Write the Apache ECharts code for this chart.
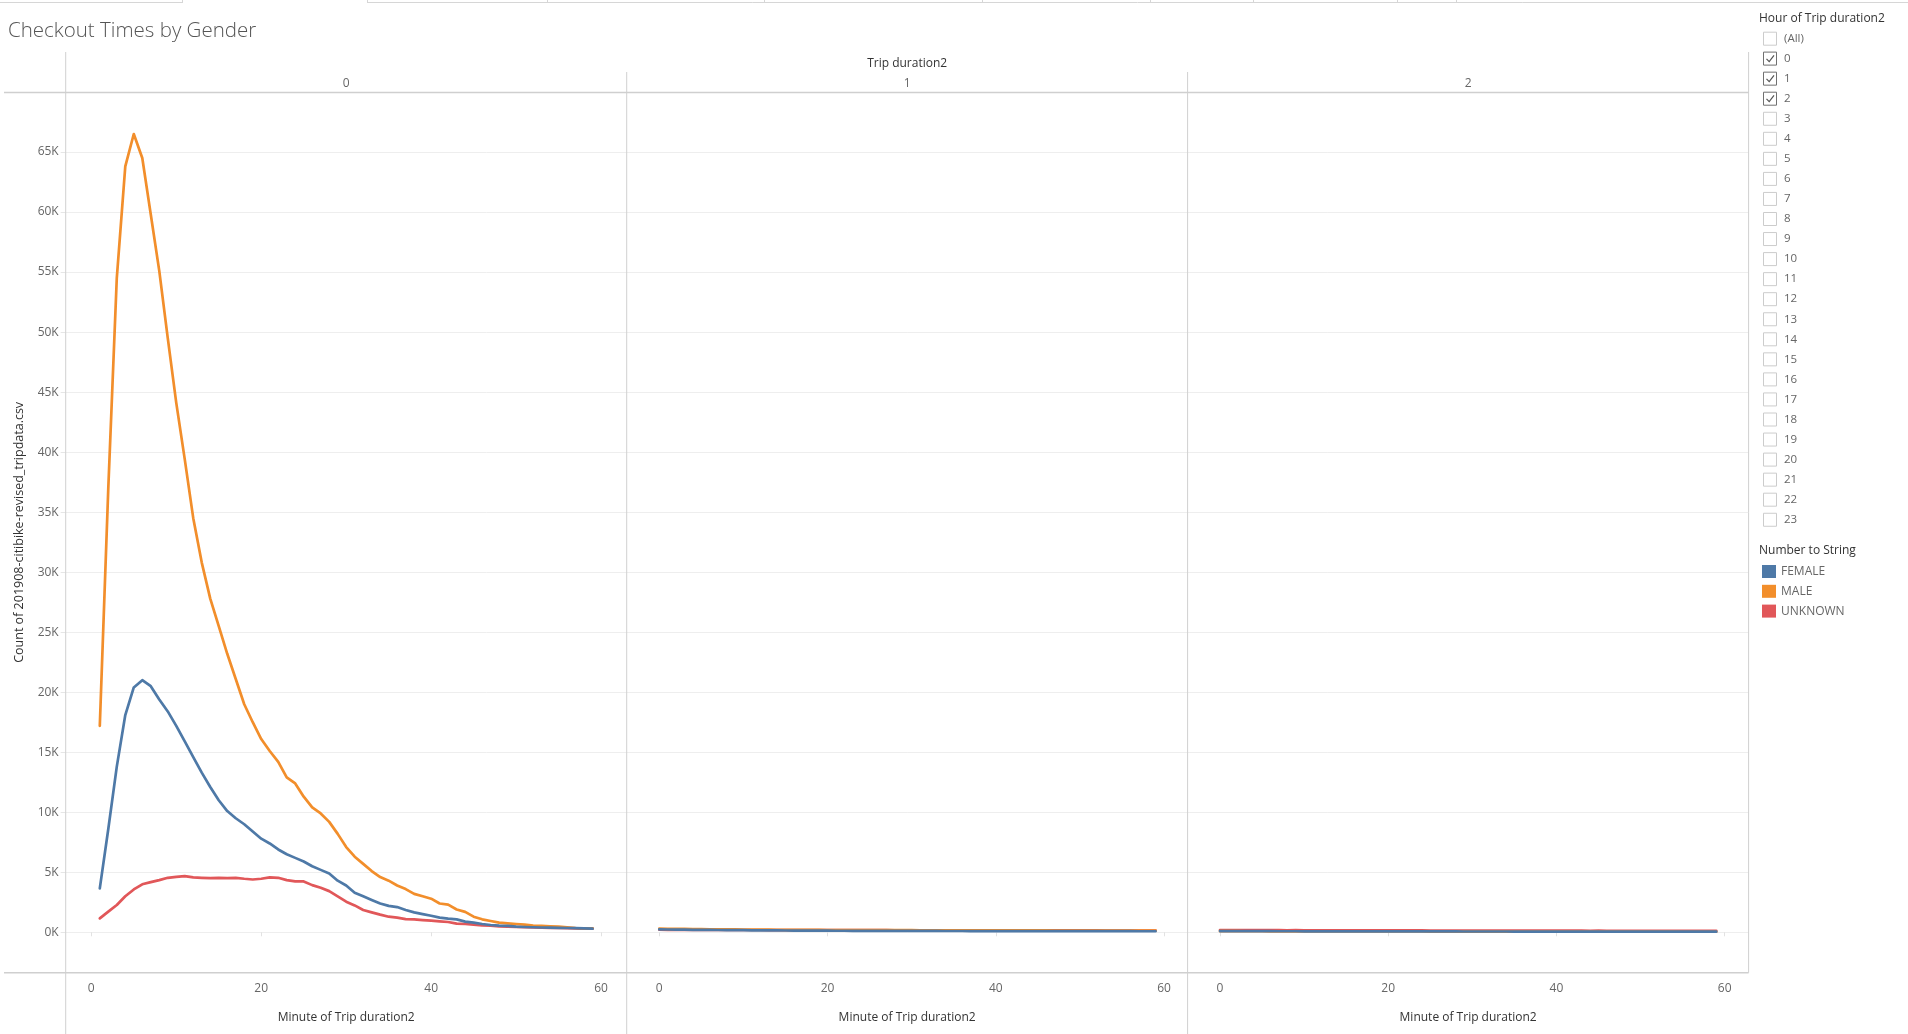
<!DOCTYPE html>
<html>
<head>
<meta charset="utf-8">
<script src="https://cdn.jsdelivr.net/npm/echarts@6/dist/echarts.min.js"></script>
<style>
html,body{margin:0;padding:0;background:#fff;}
#chart{width:1908px;height:1034px;}
</style>
</head>
<body>
<div id="chart"></div>
<script>
// ---------------- DATA ----------------
const minutesHour0 = [1,2,3,4,5,6,7,8,9,10,11,12,13,14,15,16,17,18,19,20,21,22,23,24,25,26,27,28,29,30,31,32,33,34,35,36,37,38,39,40,41,42,43,44,45,46,47,48,49,50,51,52,53,54,55,56,57,58,59];
const minutesHour12 = [0,1,2,3,4,5,6,7,8,9,10,11,12,13,14,15,16,17,18,19,20,21,22,23,24,25,26,27,28,29,30,31,32,33,34,35,36,37,38,39,40,41,42,43,44,45,46,47,48,49,50,51,52,53,54,55,56,57,58,59];

const maleHour0 = [
17200, 37000, 54500, 63800, 66500, 64500, 59800, 55100, 49500, 44100,
39400, 34500, 30800, 27800, 25500, 23200, 21100, 19000, 17500, 16100,
15100, 14200, 12900, 12400, 11300, 10400, 9900, 9200, 8200, 7100,
6300, 5700, 5100, 4600, 4300, 3900, 3600, 3200, 3000, 2800,
2400, 2300, 1900, 1700, 1300, 1080, 940, 800, 750, 690,
640, 550, 530, 500, 470, 420, 360, 330, 330];
const femaleHour0 = [
3660, 8600, 13800, 18100, 20400, 21000, 20500, 19400, 18400, 17200,
15900, 14600, 13300, 12100, 11000, 10100, 9500, 9000, 8400, 7800,
7400, 6900, 6500, 6200, 5900, 5500, 5200, 4900, 4300, 3900,
3300, 3000, 2700, 2400, 2200, 2100, 1860, 1660, 1520, 1380,
1220, 1140, 1080, 890, 800, 690, 610, 550, 530, 470,
440, 420, 400, 390, 370, 360, 350, 330, 300];
const unknownHour0 = [
1160, 1720, 2270, 3000, 3570, 4000, 4180, 4350, 4540, 4620,
4680, 4570, 4540, 4510, 4540, 4510, 4540, 4460, 4400, 4460,
4570, 4540, 4350, 4240, 4240, 3930, 3710, 3430, 3000, 2550,
2240, 1860, 1660, 1470, 1300, 1220, 1100, 1080, 1020, 970,
910, 860, 720, 690, 640, 580, 550, 500, 470, 440,
420, 400, 390, 370, 360, 350, 330, 310, 300];

const maleHour1 = [
300, 291, 284, 277, 269, 263, 256, 249, 244, 238,
232, 227, 222, 217, 213, 208, 204, 201, 198, 195,
192, 190, 187, 185, 183, 181, 179, 178, 176, 174,
173, 171, 170, 168, 167, 166, 164, 163, 162, 161,
160, 158, 157, 156, 155, 154, 153, 152, 151, 150,
149, 148, 148, 147, 146, 145, 145, 144, 143, 142];
const femaleHour1 = [
240, 232, 224, 217, 210, 203, 196, 190, 184, 178,
173, 168, 163, 158, 154, 150, 146, 143, 140, 137,
134, 131, 129, 127, 125, 123, 121, 119, 118, 116,
115, 113, 112, 111, 110, 108, 107, 106, 105, 104,
103, 102, 101, 100, 99, 98, 97, 96, 96, 95,
94, 93, 93, 92, 91, 91, 90, 89, 89, 88];
const unknownHour1 = [
212, 208, 206, 203, 204, 199, 198, 196, 197, 193,
192, 190, 191, 188, 186, 187, 184, 183, 182, 181,
180, 178, 179, 176, 175, 175, 174, 173, 172, 171,
171, 169, 168, 168, 167, 166, 165, 164, 164, 163,
162, 161, 160, 160, 159, 158, 157, 157, 156, 155,
154, 154, 153, 152, 151, 151, 150, 149, 148, 147];

const maleHour2 = [
95, 93, 91, 89, 87, 86, 84, 83, 81, 80,
79, 77, 76, 75, 74, 73, 72, 71, 70, 69,
68, 68, 67, 66, 65, 64, 64, 63, 62, 62,
61, 60, 60, 59, 58, 58, 57, 57, 56, 55,
55, 54, 54, 53, 53, 52, 52, 51, 51, 50,
50, 49, 49, 48, 48, 47, 47, 47, 46, 46];
const femaleHour2 = [
100, 98, 96, 95, 93, 92, 90, 89, 88, 86,
85, 84, 83, 82, 81, 80, 79, 78, 77, 76,
75, 75, 74, 73, 72, 71, 71, 70, 69, 68,
68, 67, 66, 66, 65, 64, 64, 63, 62, 62,
61, 61, 60, 59, 59, 58, 58, 57, 57, 56,
56, 55, 55, 54, 54, 53, 53, 52, 52, 51];
const unknownHour2 = [
190, 186, 187, 181, 183, 178, 176, 178, 172, 174,
170, 168, 170, 166, 164, 166, 162, 160, 162, 158,
156, 158, 154, 153, 154, 150, 149, 150, 147, 146,
147, 144, 143, 144, 141, 140, 141, 138, 137, 138,
135, 134, 135, 132, 131, 132, 130, 129, 130, 127,
126, 127, 125, 124, 125, 122, 121, 122, 120, 119];

const paneLabels = ['0', '1', '2'];
const genderNames = ['FEMALE', 'MALE', 'UNKNOWN'];
const filterItems = ['(All)','0','1','2','3','4','5','6','7','8','9','10','11','12','13','14','15','16','17','18','19','20','21','22','23'];
const checkedItems = ['0', '1', '2'];
const xMin = 0, xMax = 60, xStep = 20;
const yMin = 0, yMax = 70000, yStep = 5000;

// ---------------- STYLE / LAYOUT ----------------
const COLORS = { FEMALE: '#4e79a7', MALE: '#f28e2b', UNKNOWN: '#e15759' };
const FONT = '"Open Sans", "Noto Sans", sans-serif';
const BORDER = '#d0d0d0';
const GRIDC = '#eeeeee';
const PANE_EDGES = [65.7, 626.7, 1187.6, 1748.6];
const PLOT_TOP = 92, ZERO_Y = 932.3, AXIS_LINE_Y = 972.7;
const DATA_GRIDS = [
  { left: 91.3, width: 509.8 },
  { left: 659.3, width: 504.7 },
  { left: 1220.0, width: 504.7 }
];

const panes = [
  { minutes: minutesHour0, FEMALE: femaleHour0, MALE: maleHour0, UNKNOWN: unknownHour0 },
  { minutes: minutesHour12, FEMALE: femaleHour1, MALE: maleHour1, UNKNOWN: unknownHour1 },
  { minutes: minutesHour12, FEMALE: femaleHour2, MALE: maleHour2, UNKNOWN: unknownHour2 }
];

const grids = [], xAxes = [], yAxes = [], series = [];
DATA_GRIDS.forEach((g, i) => {
  grids.push({ left: g.left, width: g.width, top: PLOT_TOP, height: ZERO_Y - PLOT_TOP, containLabel: false });
  xAxes.push({
    type: 'value', gridIndex: i, min: xMin, max: xMax, interval: xStep,
    offset: AXIS_LINE_Y - ZERO_Y,
    axisLine: { show: false },
    axisTick: { show: true, length: 4, lineStyle: { color: '#e2e2e2' } },
    axisLabel: { color: '#666', fontSize: 12, fontFamily: FONT, margin: 10 },
    splitLine: { show: false }
  });
  yAxes.push({ type: 'value', gridIndex: i, min: yMin, max: yMax, interval: yStep, show: false });
});
// background grid spanning all panes, carrying gridlines + y labels
const bg = grids.length;
grids.push({ left: PANE_EDGES[0], width: PANE_EDGES[3] - PANE_EDGES[0], top: PLOT_TOP, height: ZERO_Y - PLOT_TOP, containLabel: false, z: 0 });
xAxes.push({ type: 'value', gridIndex: bg, min: 0, max: 1, show: false });
yAxes.push({
  type: 'value', gridIndex: bg, min: yMin, max: yMax, interval: yStep, z: 0,
  axisLine: { show: false },
  axisTick: { show: true, length: 5, lineStyle: { color: '#e6e6e6' } },
  axisLabel: {
    color: '#666', fontSize: 12, fontFamily: FONT, margin: 7,
    formatter: v => (v >= yMax ? '' : (v / 1000) + 'K')
  },
  splitLine: { show: true, lineStyle: { color: GRIDC, width: 1 } }
});

const drawOrder = ['UNKNOWN', 'MALE', 'FEMALE'];
panes.forEach((p, i) => {
  drawOrder.forEach(name => {
    series.push({
      name, type: 'line', xAxisIndex: i, yAxisIndex: i,
      data: p.minutes.map((m, k) => [m, p[name][k]]),
      showSymbol: false, symbol: 'none', smooth: false,
      lineStyle: { color: COLORS[name], width: 2.7, join: 'round', cap: 'round' },
      itemStyle: { color: COLORS[name] },
      animation: false, z: 3
    });
  });
});

// ---------------- GRAPHICS (frame, headers, filter) ----------------
const gfx = [];
function line(x1, y1, x2, y2, color, w) {
  gfx.push({ type: 'line', silent: true, z: 1, shape: { x1, y1, x2, y2 }, style: { stroke: color || BORDER, lineWidth: w || 1 } });
}
function text(str, x, y, opts) {
  opts = opts || {};
  gfx.push({
    type: 'text', silent: true, z: 5, x, y, rotation: opts.rotation || 0,
    style: {
      text: str, fill: opts.color || '#555', font: (opts.weight || 'normal') + ' ' + (opts.size || 11) + 'px ' + (opts.family || FONT),
      align: opts.align || 'left', verticalAlign: 'middle',
      textAlign: opts.align || 'left', textVerticalAlign: 'middle'
    }
  });
}
// top tab remnants
line(0, 2.5, 182, 2.5, '#d6d6d6');
line(182.5, 0, 182.5, 3, '#d6d6d6');
line(367, 2.5, 1908, 2.5, '#d6d6d6');
[367.5, 547.5, 764.5, 982.5, 1150.5, 1253.5, 1397.5, 1456.5].forEach(x => line(x, 0, x, 3, '#d6d6d6'));

// frame lines
line(PANE_EDGES[0], 52, PANE_EDGES[0], 1034);
line(PANE_EDGES[1], 72, PANE_EDGES[1], 1034);
line(PANE_EDGES[2], 72, PANE_EDGES[2], 1034);
line(PANE_EDGES[3], 52, PANE_EDGES[3], AXIS_LINE_Y);
line(4, PLOT_TOP + 0.5, PANE_EDGES[3], PLOT_TOP + 0.5, '#cfcfcf', 1.3);
line(4, AXIS_LINE_Y, PANE_EDGES[3], AXIS_LINE_Y, '#cfcfcf', 1.6);

// title
text('Checkout Times by Gender', 8, 31, { size: 20.5, color: '#555', weight: '300' });
// headers
text('Trip duration2', (PANE_EDGES[0] + PANE_EDGES[3]) / 2, 64, { align: 'center', color: '#333', size: 12 });
paneLabels.forEach((lab, i) => {
  const cx = (PANE_EDGES[i] + PANE_EDGES[i + 1]) / 2;
  text(lab, cx, 84, { align: 'center', color: '#666', size: 12 });
  text('Minute of Trip duration2', cx, 1018, { align: 'center', color: '#333', size: 12 });
});
// y axis title
text('Count of 201908-citibike-revised_tripdata.csv', 19.5, (PLOT_TOP + AXIS_LINE_Y) / 2, { align: 'center', color: '#333', size: 12.5, rotation: Math.PI / 2 });

// filter panel
text('Hour of Trip duration2', 1759, 19, { color: '#333', size: 12 });
filterItems.forEach((item, i) => {
  const cy = i === 0 ? 38.7 : 58.6 + 20.05 * (i - 1);
  const checked = checkedItems.indexOf(item) >= 0;
  gfx.push({ type: 'rect', silent: true, z: 5, shape: { x: 1763.5, y: cy - 6.5, width: 13, height: 13 },
    style: { fill: '#fff', stroke: checked ? '#707070' : '#cccccc', lineWidth: 1 } });
  if (checked) {
    gfx.push({ type: 'polyline', silent: true, z: 6,
      shape: { points: [[1766.5, cy + 0.2], [1769.2, cy + 3], [1774, cy - 3.3]] },
      style: { stroke: '#555', lineWidth: 1.2, fill: null } });
  }
  text(item, 1784, cy, { color: '#666', size: 11.5 });
});
text('Number to String', 1759, 551, { color: '#333', size: 12 });

// ---------------- CHART ----------------
const chart = echarts.init(document.getElementById('chart'), null, { renderer: 'canvas' });
chart.setOption({
  backgroundColor: '#ffffff',
  animation: false,
  grid: grids,
  xAxis: xAxes,
  yAxis: yAxes,
  legend: {
    data: genderNames, orient: 'vertical', left: 1762, top: 565,
    icon: 'rect', itemWidth: 14, itemHeight: 13, itemGap: 6.8, padding: 0,
    selectedMode: false,
    textStyle: { color: '#666', fontSize: 12, fontFamily: FONT }
  },
  series: series,
  graphic: gfx
});
</script>
</body>
</html>
